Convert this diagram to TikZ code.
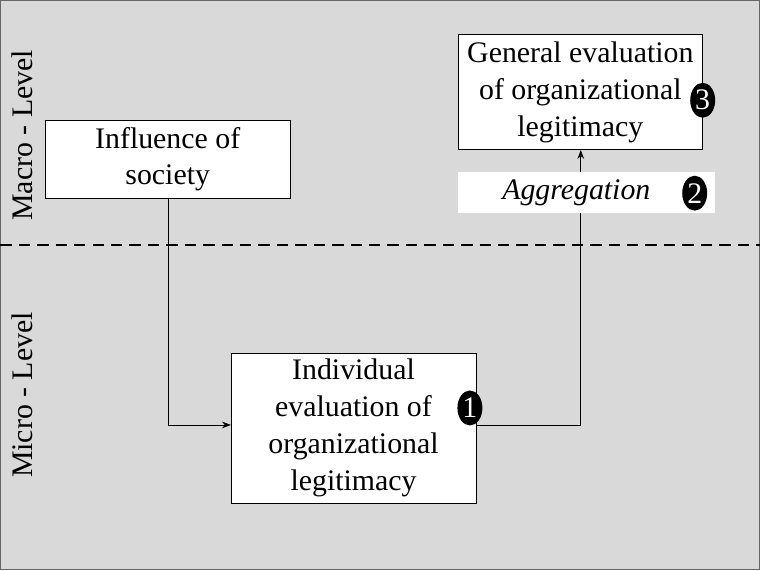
\documentclass[tikz,border=0pt]{standalone}
\usepackage{fontspec}
\setmainfont{Liberation Serif}
\usetikzlibrary{shapes.geometric,arrows.meta}
\definecolor{panelgray}{RGB}{217,217,217}

\begin{document}
\begin{tikzpicture}[x=0.02cm,y=-0.02cm,
    box/.style={draw, fill=white, align=center, font=\fontsize{17}{21}\selectfont, inner sep=0pt},
    badge/.style={ellipse, fill=black, text=white, inner sep=0pt, minimum width=0.5cm, minimum height=0.7cm, font=\fontsize{17}{20}\selectfont},
    level/.style={rotate=90, font=\fontsize{17}{20}\selectfont}]
    % Background panel
    \fill[panelgray, draw=black!60] (0,0) rectangle (760,570);
    \useasboundingbox (0,0) rectangle (760,570);

    % Level divider and side labels
    \draw[line width=1pt, dash pattern=on 6.5pt off 4pt] (0,245) -- (760,245);
    \node[level] (macro) at (22,135) {Macro - Level};
    \node[level] (micro) at (22,395) {Micro - Level};

    % Boxes
    \node[box, minimum width=4.9cm, minimum height=1.56cm] (society) at (167.5,159) {Influence of\\society};
    \node[box, minimum width=4.9cm, minimum height=2.3cm] (general) at (580.5,92) {General evaluation\\of organizational\\legitimacy};
    \node[box, minimum width=4.9cm, minimum height=3cm] (indiv) at (353.5,428) {Individual\\evaluation of\\organizational\\legitimacy};

    % Connectors
    \coordinate (bend1) at (168,425);
    \coordinate (bend2) at (581,425);
    \draw[-{Stealth[length=5pt]}] (168,198) -- (bend1) -- (bend1 -| indiv.west);
    \draw[-{Stealth[length=5pt]}] (bend2 -| indiv.east) -- (bend2) -- (general.south -| bend2);

    % Aggregation label over the rising line
    \node[box, draw=none, minimum width=5.14cm, minimum height=0.82cm, font=\fontsize{17}{21}\selectfont\itshape] (aggr) at (586.5,192.5) {\hspace*{-0.4cm}Aggregation};

    % Numbered badges
    \node[badge] (b1) at (470,408) {1};
    \node[badge] (b2) at (695,193) {2};
    \node[badge] (b3) at (703,100) {3};
\end{tikzpicture}
\end{document}
